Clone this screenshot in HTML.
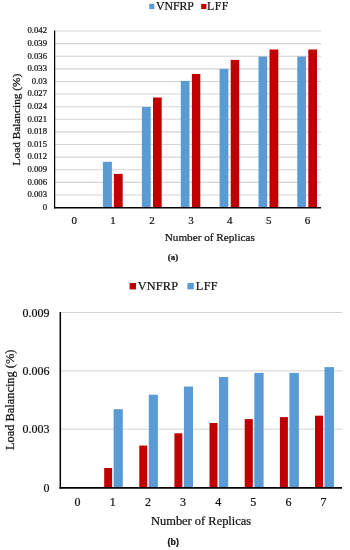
<!DOCTYPE html>
<html><head><meta charset="utf-8"><title>Load Balancing</title>
<style>
html,body{margin:0;padding:0;background:#fff;}
body{width:350px;height:550px;overflow:hidden;}
svg{display:block;}
text{font-family:"Liberation Serif",serif;fill:#111;stroke:#111;stroke-width:0.22px;}
.b{font-weight:bold;}
</style></head><body>
<svg width="350" height="550" viewBox="0 0 350 550">
<rect width="350" height="550" fill="#fff"/>
<text x="47" y="209.95" font-size="8.7" text-anchor="end">0</text>
<line x1="54.6" y1="194.99" x2="321" y2="194.99" stroke="#d4d4d4" stroke-width="1.1"/>
<text x="47" y="197.34" font-size="8.7" text-anchor="end">0.003</text>
<line x1="54.6" y1="182.37" x2="321" y2="182.37" stroke="#d4d4d4" stroke-width="1.1"/>
<text x="47" y="184.72" font-size="8.7" text-anchor="end">0.006</text>
<line x1="54.6" y1="169.76" x2="321" y2="169.76" stroke="#d4d4d4" stroke-width="1.1"/>
<text x="47" y="172.11" font-size="8.7" text-anchor="end">0.009</text>
<line x1="54.6" y1="157.14" x2="321" y2="157.14" stroke="#d4d4d4" stroke-width="1.1"/>
<text x="47" y="159.49" font-size="8.7" text-anchor="end">0.012</text>
<line x1="54.6" y1="144.53" x2="321" y2="144.53" stroke="#d4d4d4" stroke-width="1.1"/>
<text x="47" y="146.88" font-size="8.7" text-anchor="end">0.015</text>
<line x1="54.6" y1="131.91" x2="321" y2="131.91" stroke="#d4d4d4" stroke-width="1.1"/>
<text x="47" y="134.26" font-size="8.7" text-anchor="end">0.018</text>
<line x1="54.6" y1="119.30" x2="321" y2="119.30" stroke="#d4d4d4" stroke-width="1.1"/>
<text x="47" y="121.65" font-size="8.7" text-anchor="end">0.021</text>
<line x1="54.6" y1="106.69" x2="321" y2="106.69" stroke="#d4d4d4" stroke-width="1.1"/>
<text x="47" y="109.04" font-size="8.7" text-anchor="end">0.024</text>
<line x1="54.6" y1="94.07" x2="321" y2="94.07" stroke="#d4d4d4" stroke-width="1.1"/>
<text x="47" y="96.42" font-size="8.7" text-anchor="end">0.027</text>
<line x1="54.6" y1="81.46" x2="321" y2="81.46" stroke="#d4d4d4" stroke-width="1.1"/>
<text x="47" y="83.81" font-size="8.7" text-anchor="end">0.03</text>
<line x1="54.6" y1="68.84" x2="321" y2="68.84" stroke="#d4d4d4" stroke-width="1.1"/>
<text x="47" y="71.19" font-size="8.7" text-anchor="end">0.033</text>
<line x1="54.6" y1="56.23" x2="321" y2="56.23" stroke="#d4d4d4" stroke-width="1.1"/>
<text x="47" y="58.58" font-size="8.7" text-anchor="end">0.036</text>
<line x1="54.6" y1="43.61" x2="321" y2="43.61" stroke="#d4d4d4" stroke-width="1.1"/>
<text x="47" y="45.96" font-size="8.7" text-anchor="end">0.039</text>
<line x1="54.6" y1="31.00" x2="321" y2="31.00" stroke="#d4d4d4" stroke-width="1.1"/>
<text x="47" y="33.35" font-size="8.7" text-anchor="end">0.042</text>
<rect x="102.9" y="161.8" width="9.0" height="45.8" fill="#5b9bd5"/>
<rect x="113.9" y="173.9" width="8.8" height="33.7" fill="#c00000"/>
<rect x="141.9" y="107" width="8.8" height="100.6" fill="#5b9bd5"/>
<rect x="153" y="97.5" width="8.7" height="110.1" fill="#c00000"/>
<rect x="180.8" y="80.9" width="8.7" height="126.7" fill="#5b9bd5"/>
<rect x="191.9" y="74" width="8.4" height="133.6" fill="#c00000"/>
<rect x="219.6" y="68.9" width="8.8" height="138.7" fill="#5b9bd5"/>
<rect x="230.7" y="59.9" width="8.5" height="147.7" fill="#c00000"/>
<rect x="258.5" y="56.5" width="8.7" height="151.1" fill="#5b9bd5"/>
<rect x="269.5" y="49.5" width="8.8" height="158.1" fill="#c00000"/>
<rect x="297.3" y="56.5" width="8.7" height="151.1" fill="#5b9bd5"/>
<rect x="308.3" y="49.5" width="8.7" height="158.1" fill="#c00000"/>
<line x1="54.6" y1="30.5" x2="54.6" y2="208.29999999999998" stroke="#000" stroke-width="1.25"/>
<line x1="54.0" y1="207.7" x2="321" y2="207.7" stroke="#000" stroke-width="1.5"/>
<text x="74.2" y="224.3" font-size="11" text-anchor="middle">0</text>
<text x="113.1" y="224.3" font-size="11" text-anchor="middle">1</text>
<text x="152.0" y="224.3" font-size="11" text-anchor="middle">2</text>
<text x="190.9" y="224.3" font-size="11" text-anchor="middle">3</text>
<text x="229.8" y="224.3" font-size="11" text-anchor="middle">4</text>
<text x="268.7" y="224.3" font-size="11" text-anchor="middle">5</text>
<text x="307.6" y="224.3" font-size="11" text-anchor="middle">6</text>
<text x="209.8" y="240.9" font-size="11.2" text-anchor="middle">Number of Replicas</text>
<text x="173" y="260" font-size="9" text-anchor="middle" class="b">(a)</text>
<text transform="translate(20.2,119.6) rotate(-90)" font-size="11.3" text-anchor="middle">Load Balancing (%)</text>
<rect x="149.2" y="3.9" width="5.2" height="5.2" fill="#5b9bd5"/>
<text x="155.9" y="9.7" font-size="11.8">VNFRP</text>
<rect x="201.2" y="3.9" width="5.2" height="5.2" fill="#c00000"/>
<text x="207" y="9.7" font-size="11.8" letter-spacing="0.5">LFF</text>
<text x="49.6" y="491.50" font-size="12" text-anchor="end">0</text>
<line x1="60.4" y1="429.17" x2="342" y2="429.17" stroke="#d4d4d4" stroke-width="1"/>
<text x="49.6" y="433.17" font-size="12" text-anchor="end">0.003</text>
<line x1="60.4" y1="370.83" x2="342" y2="370.83" stroke="#d4d4d4" stroke-width="1"/>
<text x="49.6" y="374.83" font-size="12" text-anchor="end">0.006</text>
<line x1="60.4" y1="312.50" x2="342" y2="312.50" stroke="#d4d4d4" stroke-width="1"/>
<text x="49.6" y="316.50" font-size="12" text-anchor="end">0.009</text>
<rect x="104.2" y="468" width="7.9" height="19.5" fill="#c00000"/>
<rect x="113.6" y="409.2" width="9.2" height="78.3" fill="#5b9bd5"/>
<rect x="139.3" y="445.6" width="7.9" height="41.9" fill="#c00000"/>
<rect x="148.8" y="394.7" width="9.1" height="92.8" fill="#5b9bd5"/>
<rect x="174.4" y="433.3" width="7.9" height="54.2" fill="#c00000"/>
<rect x="183.9" y="386.5" width="9.1" height="101.0" fill="#5b9bd5"/>
<rect x="209.5" y="423" width="8.0" height="64.5" fill="#c00000"/>
<rect x="219.0" y="377" width="9.2" height="110.5" fill="#5b9bd5"/>
<rect x="244.7" y="419.1" width="8.1" height="68.4" fill="#c00000"/>
<rect x="254.3" y="372.9" width="9.3" height="114.6" fill="#5b9bd5"/>
<rect x="279.9" y="417.1" width="8.0" height="70.4" fill="#c00000"/>
<rect x="289.4" y="372.9" width="9.5" height="114.6" fill="#5b9bd5"/>
<rect x="315" y="415.7" width="8.0" height="71.8" fill="#c00000"/>
<rect x="324.5" y="367.1" width="9.5" height="120.4" fill="#5b9bd5"/>
<line x1="60.3" y1="312.0" x2="60.3" y2="488.7" stroke="#000" stroke-width="1.5"/>
<line x1="59.55" y1="487.85" x2="342" y2="487.85" stroke="#000" stroke-width="1.8"/>
<text x="77.6" y="506.1" font-size="12" text-anchor="middle">0</text>
<text x="112.8" y="506.1" font-size="12" text-anchor="middle">1</text>
<text x="147.9" y="506.1" font-size="12" text-anchor="middle">2</text>
<text x="183.0" y="506.1" font-size="12" text-anchor="middle">3</text>
<text x="218.2" y="506.1" font-size="12" text-anchor="middle">4</text>
<text x="253.3" y="506.1" font-size="12" text-anchor="middle">5</text>
<text x="288.5" y="506.1" font-size="12" text-anchor="middle">6</text>
<text x="323.6" y="506.1" font-size="12" text-anchor="middle">7</text>
<text x="201.1" y="524.8" font-size="12.45" text-anchor="middle">Number of Replicas</text>
<text x="173.2" y="545" font-size="8.8" text-anchor="middle" class="b" style="font-family:'Liberation Sans',sans-serif">(b)</text>
<text transform="translate(14.1,399.8) rotate(-90)" font-size="12.4" text-anchor="middle">Load Balancing (%)</text>
<rect x="129.6" y="283" width="6.4" height="6.4" fill="#c00000"/>
<text x="137.8" y="290" font-size="12.3" letter-spacing="0.15">VNFRP</text>
<rect x="187.4" y="283" width="6.4" height="6.4" fill="#5b9bd5"/>
<text x="195.8" y="290" font-size="12.2" letter-spacing="0.4">LFF</text>
</svg></body></html>
